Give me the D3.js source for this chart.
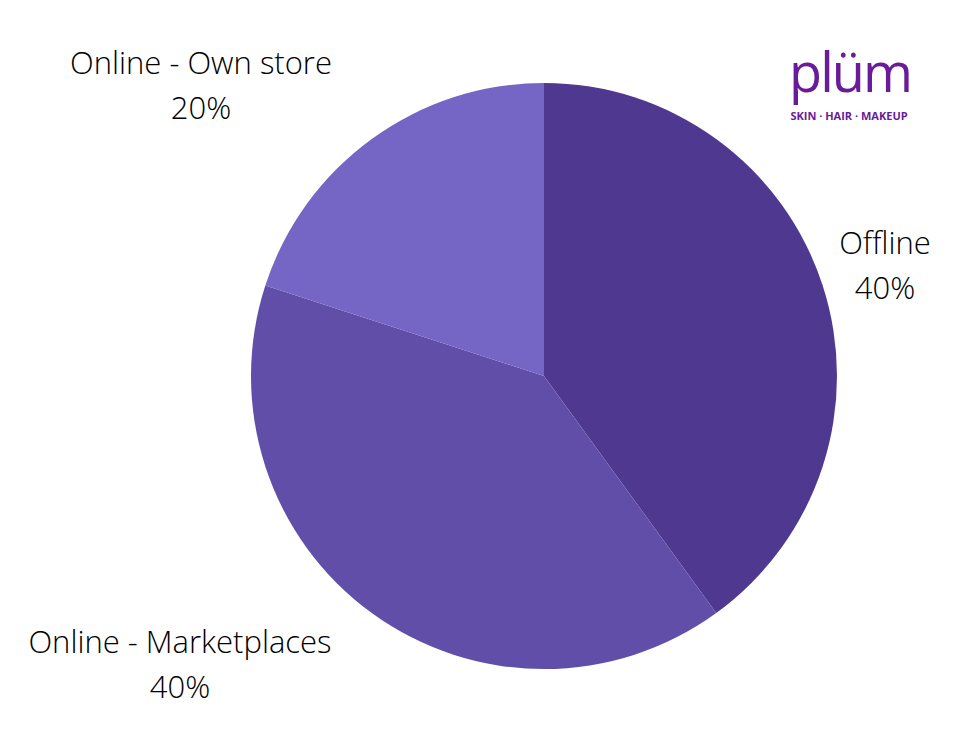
<!DOCTYPE html>
<html lang="en">
<head>
  <meta charset="UTF-8">
  <title>Pie chart</title>
  <script src="https://cdn.jsdelivr.net/npm/d3@7"></script>
  <style>body{margin:0;background:#fff}</style>
</head>
<body>
<script>
  var categories = ['Offline', 'Online - Marketplaces', 'Online - Own store'];
  var values = [40, 40, 20];
  var labels = ['40%', '40%', '20%'];
  var colors = ['#4f3890', '#604ea8', '#7565c4'];

  var svg = d3.select('body').append('svg').attr('width', 962).attr('height', 748);
  var g = svg.append('g').attr('transform', 'translate(544,376)');

  var pie = d3.pie().sort(null)(values);
  var arc = d3.arc().innerRadius(0).outerRadius(293);

  g.selectAll('path').data(pie).enter().append('path')
    .attr('d', arc)
    .attr('fill', function(d, i){ return colors[i]; });

  // label positions (centre of text block)
  var labelPos = [[885, 266], [180, 665], [201, 86]];
  var t = svg.selectAll('text.lbl').data(categories).enter().append('text')
    .attr('class', 'lbl')
    .attr('text-anchor', 'middle')
    .attr('font-family', 'Open Sans, sans-serif')
    .attr('font-size', 31)
    .attr('font-weight', 300)
    .attr('fill', '#000');
  t.append('tspan').attr('x', function(d, i){ return labelPos[i][0]; })
    .attr('y', function(d, i){ return labelPos[i][1] - 12; })
    .text(function(d){ return d; });
  t.append('tspan').attr('x', function(d, i){ return labelPos[i][0]; })
    .attr('y', function(d, i){ return labelPos[i][1] + 33; })
    .text(function(d, i){ return labels[i]; });

  // logo
  var logo = svg.append('g').attr('fill', '#6a1b9a');
  logo.append('text').attr('x', 850).attr('y', 92).attr('text-anchor', 'middle')
    .attr('font-family', 'Open Sans, sans-serif').attr('font-size', 54).attr('font-weight', 400)
    .text('plüm').style('letter-spacing', '-2px');
  logo.append('text').attr('x', 849).attr('y', 120).attr('text-anchor', 'middle')
    .attr('font-family', 'Open Sans, sans-serif').attr('font-size', 11).attr('font-weight', 700)
    .text('SKIN · HAIR · MAKEUP');
</script>
</body>
</html>
